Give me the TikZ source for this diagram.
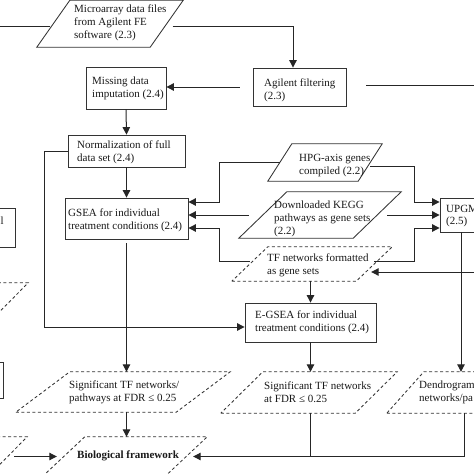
\documentclass[tikz,border=0pt]{standalone}
\usepackage{fontspec}
\setmainfont{Liberation Serif}
\usetikzlibrary{calc,arrows.meta}
\tikzset{
  ln/.style={line width=1pt, draw=black!85},
  arr/.style={ln, -{Triangle[length=7.5pt,width=7.5pt]}},
  boxn/.style={draw=black!80, line width=0.85pt, inner sep=0pt},
  pnode/.style={inner sep=0pt},
  pline/.style={draw=black!80, line width=0.85pt},
  dsh/.style={dash pattern=on 3pt off 2.5pt},
  txt/.style={anchor=west, align=left, inner sep=0pt, font=\fontsize{11}{12.8}\selectfont, text=black!90},
}
\newcommand\mypara[3][]{\draw[pline,#1] ($(#2.south west)+(-0.5*#3,0)$) -- ($(#2.south east)+(-0.5*#3,0)$) -- ($(#2.north east)+(0.5*#3,0)$) -- ($(#2.north west)+(0.5*#3,0)$) -- cycle;}
\begin{document}
\begin{tikzpicture}[x=1pt,y=-1pt]
\useasboundingbox (0,0) rectangle (474,474);
\fill[white] (0,0) rectangle (474,474);
\clip (0,0) rectangle (474,474);

% rectangles
\node[boxn, minimum width=80pt, minimum height=42pt] (miss) at (126,88) {};
\node[txt] (misst) at (92,88.5) {Missing data\\imputation (2.4)};
\node[boxn, minimum width=93pt, minimum height=38pt] (agil) at (299.5,87) {};
\node[txt] (agilt) at (264,90.5) {Agilent filtering\\(2.3)};
\node[boxn, minimum width=117pt, minimum height=32pt] (norm) at (126.5,151) {};
\node[txt] (normt) at (77,152) {Normalization of full\\data set (2.4)};
\node[boxn, minimum width=123pt, minimum height=41pt] (gsea) at (126.5,218.5) {};
\node[txt] (gseat) at (68,220.5) {GSEA for individual\\treatment conditions (2.4)};
\node[boxn, minimum width=131pt, minimum height=39pt] (egsea) at (310.5,322.5) {};
\node[txt] (egseat) at (255,322.5) {E-GSEA for individual\\treatment conditions (2.4)};
\node[boxn, minimum width=42pt, minimum height=34pt] (upgma) at (461,215) {};
\node[txt] (upgmat) at (446,216) {UPGM\\(2.5)};
\node[boxn, minimum width=60pt, minimum height=39pt] (lb1) at (-15,227.5) {};
\node[txt, anchor=east] (lb1t) at (4,221) {l};
\node[boxn, minimum width=60pt, minimum height=36pt] (lb2) at (-27,380) {};

% parallelograms
\node[pnode, minimum width=113pt, minimum height=46.5pt] (micro) at (110,23.75) {};
\mypara{micro}{33}
\node[txt] (microt) at (74,22.5) {Microarray data files\\from Agilent FE\\software (2.3)};

\node[pnode, minimum width=90pt, minimum height=37pt] (hpg) at (325,162.5) {};
\mypara{hpg}{24}
\node[txt] (hpgt) at (299,165.5) {HPG-axis genes\\compiled (2.2)};

\node[pnode, minimum width=114pt, minimum height=46pt] (kegg) at (320,215) {};
\mypara{kegg}{48}
\node[txt] (keggt) at (274,219) {Downloaded KEGG\\pathways as gene sets\\(2.2)};

\node[pnode, minimum width=124pt, minimum height=34pt] (tf) at (312,264) {};
\mypara[dsh]{tf}{36}
\node[txt] (tft) at (267,265.5) {TF networks formatted\\as gene sets};

\node[pnode, minimum width=160pt, minimum height=40pt] (sig1) at (123,392) {};
\mypara[dsh]{sig1}{54}
\node[txt] (sig1t) at (69,392.5) {Significant TF networks/\\pathways at FDR ≤ 0.25};

\node[pnode, minimum width=134pt, minimum height=41pt] (sig2) at (309,392.5) {};
\mypara[dsh]{sig2}{42}
\node[txt] (sig2t) at (264,392.5) {Significant TF networks\\at FDR ≤ 0.25};

\node[pnode, minimum width=130pt, minimum height=41pt] (dend) at (470.5,392.5) {};
\mypara[dsh]{dend}{37}
\node[txt] (dendt) at (419,392) {Dendrogram\\networks/pa};

\node[pnode, minimum width=122pt, minimum height=39pt] (bio) at (125,456.5) {};
\mypara[dsh]{bio}{42}
\node[txt, font=\fontsize{11}{12.8}\selectfont\bfseries] (biot) at (77,455.5) {Biological framework};

\node[pnode, minimum width=60pt, minimum height=35pt] (ld1) at (-19.5,300.5) {};
\mypara[dsh]{ld1}{35}
\node[pnode, minimum width=60pt, minimum height=39pt] (ld2) at (-22.5,456.5) {};
\mypara[dsh]{ld2}{39}

% free ends
\coordinate (lout) at (0,26);
\coordinate (rout) at (474,85);
\coordinate (rin) at (474,272);

% connectors
\draw[ln, shorten <=3pt] ([yshift=-2.25pt]micro.west) -- (lout);
\draw[arr, shorten <=6pt] ([yshift=-2.25pt]micro.east) -| ([xshift=-6.5pt]agil.north);
\draw[ln, shorten <=20pt] ([yshift=2pt]agil.east) -- (rout);
\draw[arr, shorten <=13pt] (agil.west) -- (agil.west -| miss.east);
\draw[arr] (miss.south) -- (norm.north);
\draw[arr] (norm.west) -- ++(-23.5,0) |- ([yshift=-4.5pt]egsea.west);
\draw[arr] (norm.south) -- (gsea.north);
\draw[arr, shorten <=4pt] (gsea.south) -- (gsea.south |- sig1.north);
\draw[arr] (gsea.south |- sig1.south) -- (gsea.south |- bio.north);

\draw[arr] (hpg.west) -- ++(-60,0) |- ([yshift=16.5pt]gsea.east);
\draw[arr, shorten <=14pt] (kegg.west) -- (kegg.west -| gsea.east);
\draw[arr] ([yshift=3pt]tf.west) -- ++(-30,0) |- ([yshift=-9.5pt]gsea.east);

\draw[arr] ([yshift=-3.5pt]hpg.east) -- ++(44,0) |- ([yshift=13pt]upgma.west);
\draw[arr, shorten <=10pt] (kegg.east) -- (kegg.east -| upgma.west);
\draw[arr] ([yshift=3pt]tf.east) -- ++(40,0) |- ([yshift=-13pt]upgma.west);
\draw[arr, shorten >=-3pt] (rin) -- ([yshift=-8pt]tf.east);

\draw[arr] (egsea.north |- tf.south) -- (egsea.north);
\draw[arr] (egsea.south) -- (egsea.south |- sig2.north);
\draw[arr] (upgma.south) -- (upgma.south |- dend.north);

\draw[ln] (egsea.south |- sig2.south) -- (egsea.south |- bio.east);
\draw[arr, shorten >=7pt] ([xshift=-6.5pt]dend.south) |- (bio.east);
\draw[arr, shorten <=6.5pt, shorten >=7pt] (ld2.east) -- (bio.west);
\end{tikzpicture}
\end{document}
